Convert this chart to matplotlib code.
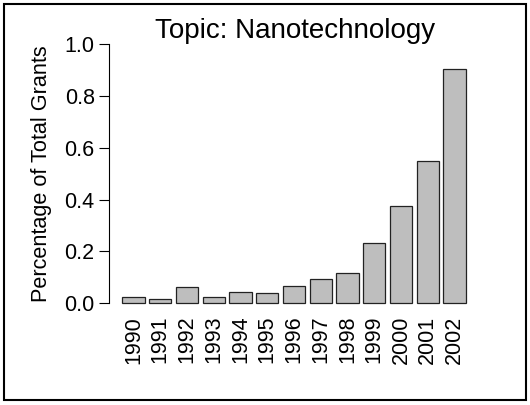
import matplotlib
matplotlib.use("Agg")
import matplotlib.pyplot as plt
from matplotlib.patches import Rectangle

years = ["1990", "1991", "1992", "1993", "1994", "1995", "1996",
         "1997", "1998", "1999", "2000", "2001", "2002"]
values = [0.023, 0.015, 0.062, 0.023, 0.042, 0.039, 0.066,
          0.093, 0.116, 0.232, 0.375, 0.548, 0.903]

plt.rcParams['font.family'] = ['Liberation Sans', 'DejaVu Sans']

W, H = 530, 405
fig = plt.figure(figsize=(W / 100, H / 100), dpi=100)

def px(x0, y0, x1, y1):
    return [x0 / W, 1 - y1 / H, (x1 - x0) / W, (y1 - y0) / H]

ax = fig.add_axes(px(108.6, 44, 479.4, 303.3))
centers = [0.7 + 1.2 * i for i in range(len(values))]
ax.bar(centers, values, width=1.0, color="#bebebe", edgecolor="#222222",
       linewidth=0.9, clip_on=False)
ax.set_xlim(-0.416, 16.216)
ax.set_ylim(0, 1)
for s in ["top", "right", "bottom"]:
    ax.spines[s].set_visible(False)
ax.spines["left"].set_linewidth(0.8)
ax.set_yticks([0, 0.2, 0.4, 0.6, 0.8, 1.0])
ax.set_yticklabels(["0.0", "0.2", "0.4", "0.6", "0.8", "1.0"])
ax.tick_params(axis="y", length=7.5, width=0.8, pad=2.5, labelsize=15.5)
ax.set_xticks(centers)
ax.set_xticklabels(years, rotation=90, fontsize=15.5)
ax.tick_params(axis="x", length=0, pad=9)
ax.set_ylabel("Percentage of Total Grants", fontsize=15.6, labelpad=9)
ax.patch.set_visible(False)

fig.text(295.5 / W, 1 - 30.5 / H, "Topic: Nanotechnology", fontsize=20,
         ha="center", va="center")

fig.patches.append(Rectangle((4 / W, 1 - 400 / H), 522 / W, 396 / H,
                             transform=fig.transFigure, fill=False,
                             edgecolor="black", linewidth=1.5))

fig.savefig("out.png", dpi=100)
